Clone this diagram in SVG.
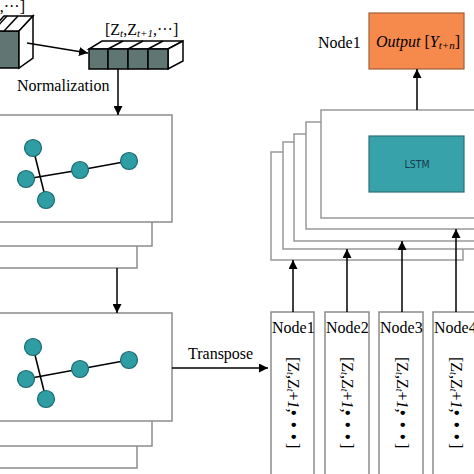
<svg xmlns="http://www.w3.org/2000/svg" width="474" height="474" viewBox="0 0 474 474">
<defs>
<marker id="ah" viewBox="0 0 10 10" refX="10" refY="5" markerWidth="9" markerHeight="9" markerUnits="userSpaceOnUse" orient="auto">
<path d="M0,0 L10,5 L0,10 z" fill="#000"/>
</marker>
<style>
.t{font-family:"Liberation Serif","Times New Roman",serif;font-size:16px;fill:#000}
.i{font-style:italic}
.panel{fill:#fff;stroke:#8c8c8c;stroke-width:1.5}
.frame{fill:#fff;stroke:#999;stroke-width:1.5}
.cell{fill:#5f7672;stroke:#000;stroke-width:1.5}
.face{fill:#fff;stroke:#000;stroke-width:1.5}
.gn{fill:#2f9da4;stroke:#1d6a70;stroke-width:1.2}
.ge{stroke:#000;stroke-width:1.5;fill:none}
.ar{stroke:#000;stroke-width:1.5;fill:none;marker-end:url(#ah)}
.nb{fill:#fff;stroke:#8c8c8c;stroke-width:1.5}
.dot{font-size:16px;font-weight:bold}
</style>
</defs>
<rect width="474" height="474" fill="#fff"/>

<g id="input-cube">
<rect class="cell" x="-10" y="31" width="29" height="37"/>
<polygon class="face" points="-10,31 19,31 33,16 4,16"/>
<polygon class="face" points="19,31 33,16 33,58 19,68"/>
<line class="ge" x1="-7" y1="31" x2="7" y2="16"/>
<line class="ge" x1="4" y1="31" x2="18" y2="16"/>
<text class="t" x="25" y="12" text-anchor="end">[Z<tspan class="i" font-size="11" dy="2">t</tspan><tspan dy="-2">,Z</tspan><tspan class="i" font-size="11" dy="2">t+1</tspan><tspan dy="-2">,···]</tspan></text>
</g>

<g id="normalized-strip">
<polygon class="face" points="89,49 168,49 183,41 102,41"/>
<polygon class="face" points="168,49 183,41 183,61 168,69"/>
<line class="ge" x1="108" y1="49" x2="123" y2="41"/>
<line class="ge" x1="128" y1="49" x2="143" y2="41"/>
<line class="ge" x1="148" y1="49" x2="163" y2="41"/>
<rect class="cell" x="89" y="49" width="19" height="20"/>
<rect class="cell" x="108" y="49" width="20" height="20"/>
<rect class="cell" x="128" y="49" width="20" height="20"/>
<rect class="cell" x="148" y="49" width="20" height="20"/>
<text class="t" x="105" y="35">[Z<tspan class="i" font-size="11" dy="2">t</tspan><tspan dy="-2">,Z</tspan><tspan class="i" font-size="11" dy="2">t+1</tspan><tspan dy="-2">,···]</tspan></text>
</g>

<g id="graph-stack-1">
<rect class="panel" x="-5" y="140" width="142" height="128"/>
<rect class="panel" x="-5" y="128" width="157" height="118"/>
<rect class="panel" x="-5" y="115" width="177" height="107"/>
<line class="ge" x1="33" y1="148" x2="46" y2="200"/>
<polyline class="ge" points="26,179 80,170 129,161"/>
<circle class="gn" cx="33" cy="148" r="8.5"/>
<circle class="gn" cx="26" cy="179" r="8.5"/>
<circle class="gn" cx="46" cy="200" r="8.5"/>
<circle class="gn" cx="80" cy="170" r="8.5"/>
<circle class="gn" cx="129" cy="161" r="8.5"/>
</g>

<g id="graph-stack-2">
<rect class="panel" x="-5" y="338" width="142" height="130"/>
<rect class="panel" x="-5" y="326" width="157" height="120"/>
<rect class="panel" x="-5" y="313" width="177" height="108"/>
<line class="ge" x1="33" y1="347" x2="46" y2="399"/>
<polyline class="ge" points="26,379 80,369 129,360"/>
<circle class="gn" cx="33" cy="347" r="8.5"/>
<circle class="gn" cx="26" cy="379" r="8.5"/>
<circle class="gn" cx="46" cy="399" r="8.5"/>
<circle class="gn" cx="80" cy="369" r="8.5"/>
<circle class="gn" cx="129" cy="360" r="8.5"/>
</g>

<g id="lstm-stack">
<rect class="frame" x="271" y="152" width="192" height="108"/>
<rect class="frame" x="283" y="142" width="200" height="107"/>
<rect class="frame" x="294" y="134" width="200" height="107"/>
<rect class="frame" x="306" y="122" width="200" height="107"/>
<rect class="frame" x="321" y="110" width="200" height="108"/>
<rect x="369" y="136" width="95" height="56" fill="#37a2a9" stroke="#2a6f75" stroke-width="1.2"/>
<text x="417" y="168" text-anchor="middle" font-family="DejaVu Sans Condensed, Liberation Sans, sans-serif" font-size="10.5" fill="#173c4f">LSTM</text>
</g>

<g id="output">
<rect x="369" y="13" width="95" height="56" fill="#f68a4c" stroke="#a0603a" stroke-width="1.2"/>
<text class="t" x="376" y="47"><tspan class="i">Output</tspan> [<tspan class="i">Y</tspan><tspan class="i" font-size="11" dy="2">t+n</tspan><tspan dy="-2">]</tspan></text>
<text class="t" x="318" y="48">Node1</text>
</g>

<g id="node1">
<rect class="nb" x="271" y="312" width="43" height="170"/>
<text class="t" x="272" y="333">Node1</text>
<g transform="translate(293,357) rotate(90)"><text class="t" font-size="14" x="0" y="5">[Z<tspan class="i" font-size="10" dy="1">t</tspan><tspan dy="-1">,Z</tspan><tspan class="i" font-size="10" dy="1">t</tspan><tspan dy="-1">+</tspan><tspan class="i">1</tspan>,<tspan class="dot" x="53">•</tspan><tspan class="dot" x="65">•</tspan><tspan class="dot" x="77">•</tspan><tspan x="86">]</tspan></text></g>
</g>
<g id="node2">
<rect class="nb" x="325" y="312" width="44" height="170"/>
<text class="t" x="326" y="333">Node2</text>
<g transform="translate(347,357) rotate(90)"><text class="t" font-size="14" x="0" y="5">[Z<tspan class="i" font-size="10" dy="1">t</tspan><tspan dy="-1">,Z</tspan><tspan class="i" font-size="10" dy="1">t</tspan><tspan dy="-1">+</tspan><tspan class="i">1</tspan>,<tspan class="dot" x="53">•</tspan><tspan class="dot" x="65">•</tspan><tspan class="dot" x="77">•</tspan><tspan x="86">]</tspan></text></g>
</g>
<g id="node3">
<rect class="nb" x="379" y="312" width="44" height="170"/>
<text class="t" x="380" y="333">Node3</text>
<g transform="translate(402,357) rotate(90)"><text class="t" font-size="14" x="0" y="5">[Z<tspan class="i" font-size="10" dy="1">t</tspan><tspan dy="-1">,Z</tspan><tspan class="i" font-size="10" dy="1">t</tspan><tspan dy="-1">+</tspan><tspan class="i">1</tspan>,<tspan class="dot" x="53">•</tspan><tspan class="dot" x="65">•</tspan><tspan class="dot" x="77">•</tspan><tspan x="86">]</tspan></text></g>
</g>
<g id="node4">
<rect class="nb" x="433" y="312" width="60" height="170"/>
<text class="t" x="434" y="333">Node4</text>
<g transform="translate(456,357) rotate(90)"><text class="t" font-size="14" x="0" y="5">[Z<tspan class="i" font-size="10" dy="1">t</tspan><tspan dy="-1">,Z</tspan><tspan class="i" font-size="10" dy="1">t</tspan><tspan dy="-1">+</tspan><tspan class="i">1</tspan>,<tspan class="dot" x="53">•</tspan><tspan class="dot" x="65">•</tspan><tspan class="dot" x="77">•</tspan><tspan x="86">]</tspan></text></g>
</g>

<g id="connectors">
<line class="ar" x1="27" y1="43" x2="88" y2="53"/>
<line class="ar" x1="118" y1="69" x2="118" y2="115"/>
<line class="ar" x1="117" y1="268" x2="117" y2="313"/>
<line class="ar" x1="172" y1="368" x2="268" y2="368"/>
<line class="ar" x1="417" y1="110" x2="417" y2="69"/>
<line class="ar" x1="293" y1="312" x2="293" y2="260"/>
<line class="ar" x1="347" y1="312" x2="347" y2="249"/>
<line class="ar" x1="402" y1="312" x2="402" y2="241"/>
<line class="ar" x1="456" y1="312" x2="456" y2="229"/>
<text class="t" x="17" y="91">Normalization</text>
<text class="t" x="188" y="359">Transpose</text>
</g>
</svg>
